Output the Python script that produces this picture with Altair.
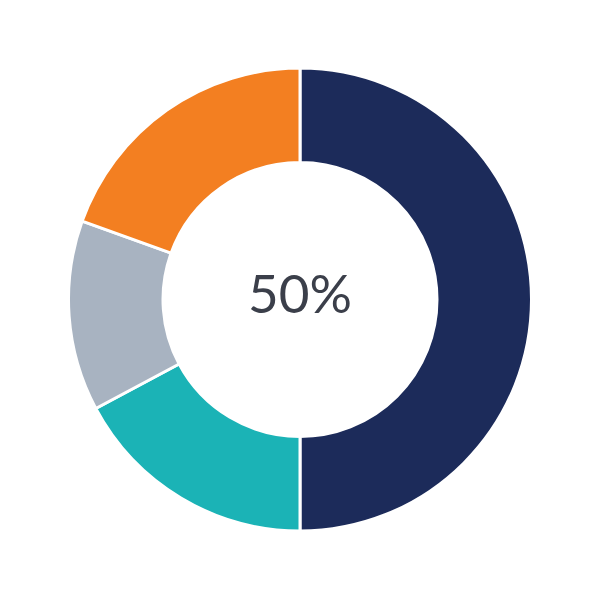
import altair as alt
import pandas as pd

categories = ["A", "B", "C", "D"]
values = [50, 17.2, 13.3, 19.5]
colors = ["#1c2b5a", "#1bb3b6", "#a8b3c1", "#f37f21"]
order = [1, 2, 3, 4]
center_label = ["50%"]

df = pd.DataFrame({"cat": categories, "val": values, "ord": order})
lab = pd.DataFrame({"t": center_label})

W, H = 570, 570

arc = alt.Chart(df).mark_arc(
    outerRadius=231.5, innerRadius=137, stroke="white", strokeWidth=3
).encode(
    theta=alt.Theta("val:Q", stack=True),
    color=alt.Color("cat:N", scale=alt.Scale(domain=categories, range=colors), legend=None),
    order=alt.Order("ord:Q"),
)

text = alt.Chart(lab).mark_text(
    font="Lato", fontSize=53, color="#3b3f4a", align="center", baseline="middle"
).encode(
    text="t:N",
    x=alt.value(W / 2),
    y=alt.value(H / 2 - 3),
)

chart = alt.layer(arc, text).properties(
    width=W, height=H,
    padding={"left": 7, "top": 6.5, "right": 0, "bottom": 0},
    autosize=alt.AutoSizeParams(type="none"),
).configure_view(strokeWidth=0)

chart.save("out.html", embed_options={"renderer": "svg", "actions": False})
